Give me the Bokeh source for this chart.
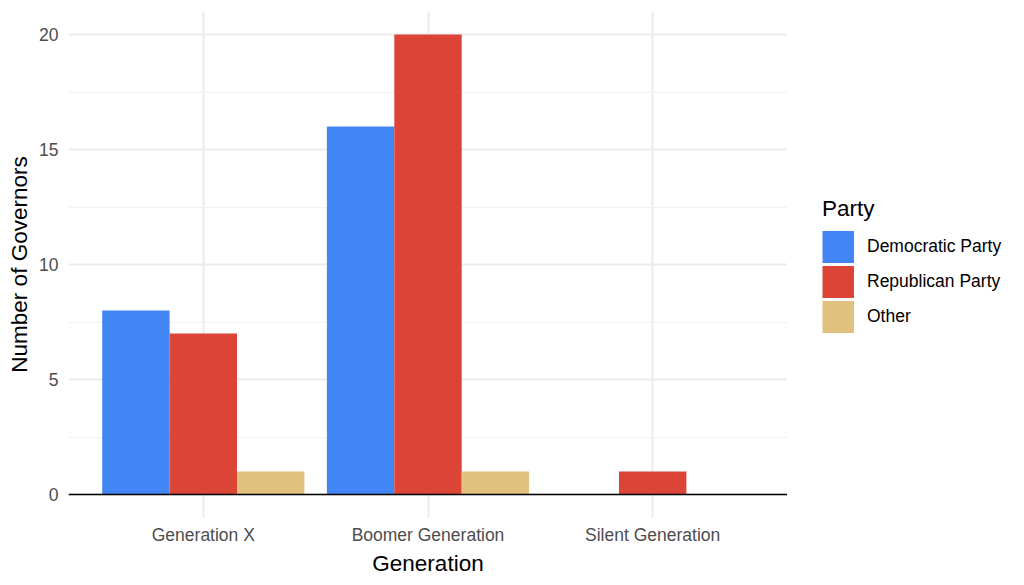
from bokeh.plotting import figure
from bokeh.layouts import row
from bokeh.models import Range1d, FixedTicker, Span, Legend, LegendItem, ColumnDataSource
from bokeh.embed import file_html
from bokeh.resources import INLINE

generations = ["Generation X", "Boomer Generation", "Silent Generation"]
parties = ["Democratic Party", "Republican Party", "Other"]
democratic = [8, 16, 0]
republican = [7, 20, 1]
other = [1, 1, 0]
colors = ["#4285F4", "#DB4437", "#E0C27E"]
y_ticks = [0, 5, 10, 15, 20]

FONT = "Liberation Sans"

p = figure(width=787, height=585, output_backend="svg", toolbar_location=None,
           x_range=Range1d(0.4, 3.6), y_range=Range1d(-1, 21),
           min_border_left=68, min_border_right=0, min_border_top=11, min_border_bottom=68)
p.outline_line_color = None
p.background_fill_color = "white"
p.border_fill_color = "white"

width = 0.3
for i, (name, vals, col) in enumerate(zip(parties, [democratic, republican, other], colors)):
    xs = [g + 1 + (i - 1) * width for g in range(len(generations))]
    src = ColumnDataSource(dict(x=xs, top=vals))
    p.vbar(x="x", top="top", bottom=0, width=width, source=src,
           fill_color=col, line_color=None)

p.add_layout(Span(location=0, dimension="width", line_color="black", line_width=1.6))

# grids
p.xgrid.ticker = FixedTicker(ticks=[1, 2, 3])
p.xgrid.grid_line_color = "#EBEBEB"
p.xgrid.grid_line_width = 2
p.ygrid.ticker = FixedTicker(ticks=y_ticks, minor_ticks=[2.5, 7.5, 12.5, 17.5])
p.ygrid.grid_line_color = "#EBEBEB"
p.ygrid.grid_line_width = 2
p.ygrid.minor_grid_line_color = "#F2F2F2"
p.ygrid.minor_grid_line_width = 1

# axes
p.xaxis.ticker = FixedTicker(ticks=[1, 2, 3])
p.xaxis.major_label_overrides = {i + 1: g for i, g in enumerate(generations)}
p.yaxis.ticker = FixedTicker(ticks=y_ticks)
for ax in [p.xaxis[0], p.yaxis[0]]:
    ax.axis_line_color = None
    ax.major_tick_line_color = None
    ax.minor_tick_line_color = None
    ax.major_tick_out = 0
    ax.major_tick_in = 0
    ax.minor_tick_out = 0
    ax.minor_tick_in = 0
    ax.major_label_text_font = FONT
    ax.major_label_text_font_size = "17.5px"
    ax.major_label_text_color = "#4D4D4D"
    ax.axis_label_text_font = FONT
    ax.axis_label_text_font_size = "22.5px"
    ax.axis_label_text_font_style = "normal"
    ax.axis_label_text_color = "black"
p.xaxis.axis_label = "Generation"
p.yaxis.axis_label = "Number of Governors"
p.xaxis.major_label_standoff = 7
p.xaxis.axis_label_standoff = 3
p.yaxis.major_label_standoff = 10
p.yaxis.axis_label_standoff = 4

# legend panel
lg = figure(width=237, height=585, output_backend="svg", toolbar_location=None,
            x_range=Range1d(0, 1), y_range=Range1d(0, 1),
            min_border_left=0, min_border_right=0, min_border_top=0, min_border_bottom=0)
lg.outline_line_color = None
lg.axis.visible = False
lg.grid.visible = False
lg.border_fill_color = "white"
lg.background_fill_color = "white"
items = []
for name, col in zip(parties, colors):
    # key drawn as a thick butt-capped line: fills the full glyph box width
    r = lg.line(x=[5, 6], y=[5, 5], line_width=32, line_color=col, line_cap="butt")
    items.append(LegendItem(label=name, renderers=[r]))

legend = Legend(items=items, location=(35, 183), title="Party",
                title_text_font=FONT, title_text_font_size="22.5px", title_text_color="black",
                title_text_font_style="normal", title_standoff=7,
                label_text_font=FONT, label_text_font_size="17.5px", label_text_color="black",
                glyph_width=32, glyph_height=35, label_height=35, spacing=0, label_standoff=13,
                padding=0, margin=0, border_line_color=None, background_fill_alpha=0)
lg.add_layout(legend)

layout = row(p, lg)
open("out.html", "w").write(file_html(layout, INLINE))
